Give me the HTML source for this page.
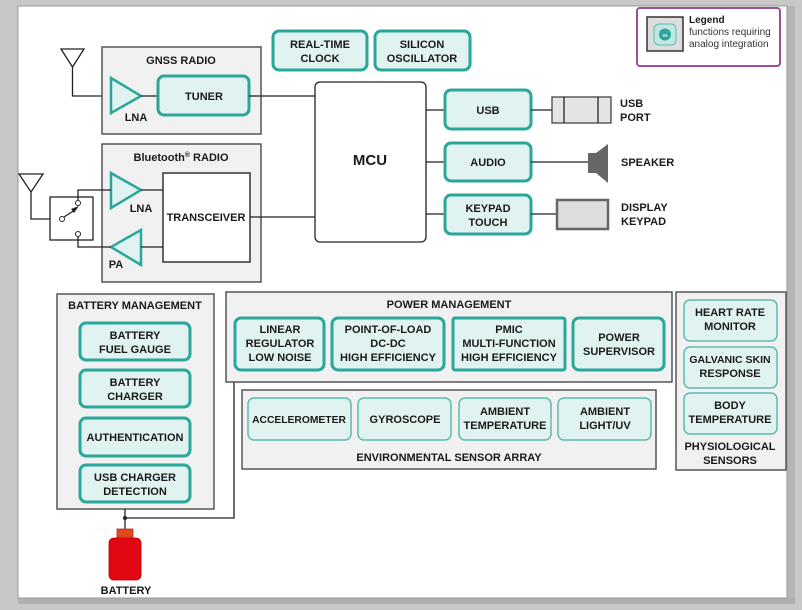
<!DOCTYPE html>
<html><head><meta charset="utf-8"><style>
html,body{margin:0;padding:0;width:802px;height:610px;overflow:hidden;background:#c9c9c9}
svg{display:block}
text{font-family:"Liberation Sans",sans-serif;font-weight:bold;font-size:11px;fill:#1a1a1a;text-anchor:middle}
.t{fill:#e1f3f1;stroke:#2aa69a;stroke-width:3}
.tl{fill:#e1f3f1;stroke:#5fbab0;stroke-width:1.5}
.g{fill:#f1f1f1;stroke:#555;stroke-width:1.5}
.w{fill:#fff;stroke:#333;stroke-width:1.5}
.l{stroke:#222;stroke-width:1.3;fill:none}
.amp{fill:#e1f3f1;stroke:#2aa69a;stroke-width:2.5}
</style></head><body>
<svg width="802" height="610" viewBox="0 0 802 610">
<rect x="0" y="0" width="802" height="610" fill="#c8c8c8"/>
<rect x="787" y="6" width="8" height="598" fill="#b5b5b5"/>
<rect x="18" y="598" width="777" height="6" fill="#b0b0b0"/>
<rect x="18" y="6" width="769" height="592" fill="#fff" stroke="#999" stroke-width="1"/>

<!-- Legend -->
<rect x="637" y="8" width="143" height="58" rx="3" fill="#fff" stroke="#9b4f96" stroke-width="2"/>
<rect x="647" y="17" width="36" height="34" fill="#ddd" stroke="#333" stroke-width="1.5"/>
<rect x="654" y="24" width="22" height="21" rx="5" fill="#bfe8e3" stroke="#5fbab0"/>
<circle cx="665" cy="34.5" r="6" fill="#2aa69a"/>
<text x="665" y="37.5" style="font-size:7px;fill:#fff">∞</text>
<text x="689" y="23" style="text-anchor:start;font-size:10px">Legend</text>
<text x="689" y="35" style="text-anchor:start;font-size:10px;font-weight:normal;fill:#333">functions requiring</text>
<text x="689" y="47" style="text-anchor:start;font-size:10px;font-weight:normal;fill:#333">analog integration</text>

<!-- Antenna 1 -->
<polygon points="61,49 84,49 72.5,67" fill="none" stroke="#222" stroke-width="1.3"/>
<polyline class="l" points="72.5,67 72.5,96 110,96"/>

<!-- GNSS -->
<rect class="g" x="102" y="47" width="159" height="87"/>
<text x="181" y="64">GNSS RADIO</text>
<polygon class="amp" points="111,78 141,96 111,113"/>
<text x="136" y="121">LNA</text>
<line class="l" x1="141" y1="96" x2="158" y2="96"/>
<rect class="t" x="158" y="76" width="91" height="39" rx="6"/>
<text x="204" y="100">TUNER</text>
<line class="l" x1="249" y1="96" x2="315" y2="96"/>

<!-- RTC / OSC -->
<rect class="t" x="273" y="31" width="94" height="39" rx="6"/>
<text x="320" y="48">REAL-TIME</text><text x="320" y="62">CLOCK</text>
<rect class="t" x="375" y="31" width="95" height="39" rx="6"/>
<text x="422" y="48">SILICON</text><text x="422" y="62">OSCILLATOR</text>

<!-- MCU -->
<rect x="315" y="82" width="111" height="160" rx="5" fill="#fff" stroke="#222" stroke-width="1.3"/>
<text x="370" y="165" style="font-size:15px">MCU</text>

<!-- USB -->
<line class="l" x1="426" y1="110" x2="445" y2="110"/>
<rect class="t" x="445" y="90" width="86" height="39" rx="6"/>
<text x="488" y="114">USB</text>
<line class="l" x1="531" y1="110" x2="552" y2="110"/>
<rect x="552" y="97" width="59" height="26" fill="#e4e4e4" stroke="#444" stroke-width="1.3"/>
<line class="l" x1="564" y1="97" x2="564" y2="123"/><line class="l" x1="598" y1="97" x2="598" y2="123"/>
<text x="620" y="107" style="text-anchor:start">USB</text><text x="620" y="121" style="text-anchor:start">PORT</text>

<!-- AUDIO -->
<line class="l" x1="426" y1="162" x2="445" y2="162"/>
<rect class="t" x="445" y="143" width="86" height="38" rx="6"/>
<text x="488" y="166">AUDIO</text>
<line class="l" x1="531" y1="162" x2="588" y2="162"/>
<rect x="588" y="153" width="8" height="20" fill="#666"/>
<polygon points="596,153 608,144 608,183 596,173" fill="#666"/>
<text x="621" y="166" style="text-anchor:start">SPEAKER</text>

<!-- KEYPAD -->
<line class="l" x1="426" y1="214" x2="445" y2="214"/>
<rect class="t" x="445" y="195" width="86" height="39" rx="6"/>
<text x="488" y="212">KEYPAD</text><text x="488" y="226">TOUCH</text>
<line class="l" x1="531" y1="214" x2="556" y2="214"/>
<rect x="557" y="200" width="51" height="29" fill="#ddd" stroke="#666" stroke-width="2.5"/>
<text x="621" y="211" style="text-anchor:start">DISPLAY</text><text x="621" y="225" style="text-anchor:start">KEYPAD</text>

<!-- Bluetooth -->
<rect class="g" x="102" y="144" width="159" height="138"/>
<text x="181" y="161">Bluetooth<tspan style="font-size:7px" dy="-4">®</tspan><tspan dy="4"> RADIO</tspan></text>
<polygon class="amp" points="111,173 141,190 111,208"/>
<text x="141" y="212">LNA</text>
<polygon class="amp" points="141,230 111,247 141,265"/>
<text x="116" y="268">PA</text>
<rect class="w" x="163" y="173" width="87" height="89"/>
<text x="206" y="221">TRANSCEIVER</text>
<line class="l" x1="141" y1="190" x2="163" y2="190"/>
<line class="l" x1="141" y1="247" x2="163" y2="247"/>
<line class="l" x1="250" y1="217" x2="315" y2="217"/>

<!-- Antenna 2 / switch -->
<polygon points="19,174 43,174 31,192" fill="none" stroke="#222" stroke-width="1.3"/>
<polyline class="l" points="31,192 31,219 59,219"/>
<rect x="50" y="197" width="43" height="43" fill="#fff" stroke="#222" stroke-width="1.3"/>
<circle cx="62" cy="219" r="2.5" fill="#fff" stroke="#222"/>
<circle cx="78" cy="203" r="2.5" fill="#fff" stroke="#222"/>
<circle cx="78" cy="234" r="2.5" fill="#fff" stroke="#222"/>
<line class="l" x1="64" y1="217" x2="75" y2="210"/>
<polygon points="79,206 71,209 74,213" fill="#222"/>
<polyline class="l" points="78,200 78,190 111,190"/>
<polyline class="l" points="78,237 78,247 111,247"/>

<!-- Battery management -->
<rect class="g" x="57" y="294" width="157" height="215"/>
<text x="135" y="309">BATTERY MANAGEMENT</text>
<rect class="t" x="80" y="323" width="110" height="37" rx="6"/>
<text x="135" y="339">BATTERY</text><text x="135" y="353">FUEL GAUGE</text>
<rect class="t" x="80" y="370" width="110" height="37" rx="6"/>
<text x="135" y="386">BATTERY</text><text x="135" y="400">CHARGER</text>
<rect class="t" x="80" y="418" width="110" height="38" rx="6"/>
<text x="135" y="441">AUTHENTICATION</text>
<rect class="t" x="80" y="465" width="110" height="37" rx="6"/>
<text x="135" y="481">USB CHARGER</text><text x="135" y="495">DETECTION</text>

<polyline class="l" points="125,509 125,530"/>
<polyline class="l" points="125,518 234,518 234,382"/>
<circle cx="125" cy="518" r="2" fill="#222"/>
<rect x="117" y="529" width="16" height="10" fill="#e04a1a" stroke="#a33" stroke-width="0.8"/>
<rect x="109" y="538" width="32" height="42" rx="5" fill="#e30613" stroke="#b00" stroke-width="0.8"/>
<text x="126" y="594">BATTERY</text>

<!-- Power management -->
<rect class="g" x="226" y="292" width="446" height="90"/>
<text x="449" y="308">POWER MANAGEMENT</text>
<rect class="t" x="235" y="318" width="89" height="52" rx="6"/>
<text x="280" y="333">LINEAR</text><text x="280" y="347">REGULATOR</text><text x="280" y="361">LOW NOISE</text>
<rect class="t" x="332" y="318" width="112" height="52" rx="6"/>
<text x="388" y="333">POINT-OF-LOAD</text><text x="388" y="347">DC-DC</text><text x="388" y="361">HIGH EFFICIENCY</text>
<rect class="t" x="453" y="318" width="112" height="52" rx="2"/>
<text x="509" y="333">PMIC</text><text x="509" y="347">MULTI-FUNCTION</text><text x="509" y="361">HIGH EFFICIENCY</text>
<rect class="t" x="573" y="318" width="91" height="52" rx="6"/>
<text x="619" y="341">POWER</text><text x="619" y="355">SUPERVISOR</text>

<!-- Environmental -->
<rect class="g" x="242" y="390" width="414" height="79"/>
<rect class="tl" x="248" y="398" width="103" height="42" rx="6"/>
<text x="299" y="423" style="font-size:10.3px">ACCELEROMETER</text>
<rect class="tl" x="358" y="398" width="93" height="42" rx="6"/>
<text x="405" y="423">GYROSCOPE</text>
<rect class="tl" x="459" y="398" width="92" height="42" rx="6"/>
<text x="505" y="415">AMBIENT</text><text x="505" y="429">TEMPERATURE</text>
<rect class="tl" x="558" y="398" width="93" height="42" rx="6"/>
<text x="605" y="415">AMBIENT</text><text x="605" y="429">LIGHT/UV</text>
<text x="449" y="461">ENVIRONMENTAL SENSOR ARRAY</text>

<!-- Physiological -->
<rect class="g" x="676" y="292" width="110" height="178"/>
<rect class="tl" x="684" y="300" width="93" height="41" rx="6"/>
<text x="730" y="316">HEART RATE</text><text x="730" y="330">MONITOR</text>
<rect class="tl" x="684" y="347" width="93" height="41" rx="6"/>
<text x="730" y="363" style="font-size:10.5px">GALVANIC SKIN</text><text x="730" y="377">RESPONSE</text>
<rect class="tl" x="684" y="393" width="93" height="41" rx="6"/>
<text x="730" y="409">BODY</text><text x="730" y="423">TEMPERATURE</text>
<text x="730" y="450">PHYSIOLOGICAL</text><text x="730" y="464">SENSORS</text>
</svg>
</body></html>
